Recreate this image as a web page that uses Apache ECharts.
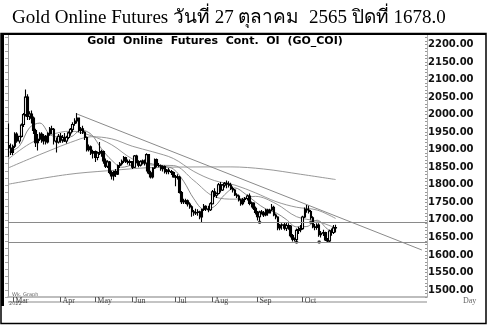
<!DOCTYPE html>
<html><head><meta charset="utf-8">
<script src="https://cdn.jsdelivr.net/npm/echarts@6/dist/echarts.min.js"></script>
<style>html,body{margin:0;padding:0;background:#fff}#c{width:488px;height:326px}</style>
</head><body><div id="c"></div>
<script>
// ---- trading days (day-of-month) per month, 2022 ----
const febDays = [24, 25];
const marDays = [1,2,3,4,7,8,9,10,11,14,15,16,17,18,21,22,23,24,25,28,29,30,31];
const aprDays = [1,4,5,7,8,11,12,18,19,20,21,22,25,26,27,28,29];
const mayDays = [3,5,6,9,10,11,12,13,17,18,19,20,23,24,25,26,27,30];
const junDays = [1,2,6,7,8,9,10,13,14,15,16,17,20,21,22,23,24,27,28,29,30];
const julDays = [1,4,5,6,7,8,11,12,14,15,18,19,20,21,22,25,26,27];
const augDays = [1,2,3,4,5,8,9,10,11,15,16,17,18,19,22,23,24,25,26,29,30,31];
const sepDays = [1,2,5,6,7,8,9,12,13,14,15,16,19,20,21,22,23,26,27,28,29,30];
const octDays = [3,4,5,6,7,10,11,12,14,17,18,19,20,21,25,26,27];
const monthNames = ['Mar','Apr','May','Jun','Jul','Aug','Sep','Oct'];
const futureSlots = 44;

// ---- OHLC: [open, close, low, high] ----
const ohlc = [
[1912,1905,1880,1975],[1905,1892,1885,1918],[1892,1910,1885,1915],[1910,1945,1905,1950],[1945,1925,1920,1950],
[1925,1938,1918,1940],[1938,1970,1935,1975],[1972,2000,1965,2005],[2000,2050,1995,2072],[2050,1995,1985,2058],
[1995,2002,1985,2010],[2002,1990,1975,2012],[1990,1955,1945,1995],[1955,1920,1908,1960],[1920,1930,1898,1945],
[1930,1945,1925,1950],[1945,1925,1920,1950],[1925,1938,1915,1945],[1938,1922,1915,1942],[1922,1946,1918,1950],
[1946,1960,1940,1965],[1960,1958,1945,1968],[1958,1925,1915,1962],[1925,1922,1892,1935],[1922,1938,1918,1945],
[1938,1928,1920,1948],[1928,1935,1920,1942],[1935,1925,1922,1948],[1925,1935,1918,1940],[1935,1948,1930,1952],
[1948,1958,1940,1962],[1958,1972,1950,1978],[1975,1982,1968,1990],[1982,1990,1975,2005],[1990,1955,1950,1992],
[1955,1960,1945,1965],[1960,1950,1945,1968],[1950,1935,1928,1953],[1935,1900,1895,1938],[1900,1908,1895,1915],
[1908,1890,1885,1912],[1890,1895,1875,1900],[1895,1878,1865,1898],[1878,1890,1870,1895],[1890,1892,1885,1922],
[1892,1895,1880,1900],[1895,1868,1860,1898],[1868,1853,1848,1875],[1853,1865,1848,1870],[1865,1835,1830,1868],
[1835,1825,1815,1840],[1825,1838,1812,1840],[1838,1830,1822,1845],[1830,1855,1828,1858],[1855,1860,1848,1865],
[1860,1867,1855,1872],[1867,1878,1862,1882],[1878,1866,1862,1880],[1866,1864,1858,1872],[1864,1866,1855,1872],
[1866,1850,1845,1868],[1850,1882,1848,1885],[1882,1866,1862,1886],[1866,1856,1850,1870],[1856,1866,1852,1870],
[1866,1868,1858,1872],[1868,1862,1855,1872],[1862,1886,1838,1890],[1886,1834,1830,1888],[1834,1822,1818,1840],
[1822,1848,1818,1850],[1848,1872,1845,1875],[1872,1855,1850,1875],[1855,1854,1850,1862],[1854,1846,1840,1858],
[1846,1852,1838,1856],[1852,1837,1832,1855],[1837,1842,1830,1845],[1842,1838,1830,1848],[1838,1835,1828,1842],
[1835,1822,1820,1838],[1822,1823,1796,1828],[1823,1821,1815,1830],[1821,1778,1775,1825],[1778,1752,1745,1782],
[1752,1752,1745,1760],[1752,1754,1745,1760],[1754,1745,1738,1758],[1745,1737,1732,1750],[1737,1723,1709,1742],
[1723,1720,1712,1728],[1720,1721,1714,1732],[1721,1723,1712,1730],[1723,1708,1702,1726],[1708,1730,1693,1732],
[1730,1739,1725,1745],[1739,1731,1725,1742],[1731,1729,1722,1740],[1729,1746,1725,1750],[1746,1780,1744,1785],
[1780,1770,1765,1790],[1770,1775,1762,1778],[1775,1800,1772,1805],[1800,1785,1778,1808],[1785,1799,1782,1802],
[1799,1804,1792,1808],[1804,1802,1790,1812],[1802,1799,1792,1810],[1799,1789,1785,1806],[1789,1785,1778,1795],
[1785,1771,1768,1788],[1771,1768,1762,1776],[1768,1757,1752,1772],[1757,1746,1740,1760],[1746,1758,1742,1762],
[1758,1761,1750,1765],[1761,1768,1755,1772],[1768,1747,1742,1775],[1747,1748,1735,1752],[1748,1733,1728,1750],
[1733,1721,1715,1738],[1721,1709,1698,1725],[1709,1722,1696,1726],[1722,1720,1715,1728],[1720,1714,1708,1725],
[1714,1728,1710,1732],[1728,1720,1712,1732],[1720,1728,1718,1732],[1728,1736,1725,1745],[1736,1714,1710,1740],
[1714,1708,1702,1718],[1708,1677,1670,1710],[1677,1685,1670,1688],[1685,1686,1672,1690],[1686,1676,1670,1692],
[1676,1684,1668,1692],[1684,1682,1672,1690],[1682,1655,1650,1685],[1655,1645,1638,1660],[1645,1644,1638,1650],
[1644,1670,1634,1675],[1670,1672,1660,1680],[1672,1675,1665,1685],[1675,1708,1672,1712],[1708,1730,1705,1735],
[1730,1728,1720,1745],[1728,1724,1718,1742],[1724,1706,1700,1728],[1706,1680,1676,1710],[1680,1678,1670,1688],
[1678,1685,1672,1690],[1685,1658,1652,1690],[1658,1662,1650,1668],[1662,1664,1654,1672],[1664,1643,1640,1666],
[1643,1640,1636,1648],[1640,1668,1636,1672],[1668,1664,1655,1675],[1664,1677,1660,1685],[1677,1678,1665,1686]
];

// ---- moving-average lines: [dayIndex, price] ----
const maFast = [[0,1893],[5,1910],[10,1963],[15,1976],[20,1943],[25,1936],[30,1937],[35,1956],[40,1944],[45,1903],
  [50,1870],[55,1850],[60,1857],[65,1866],[70,1859],[75,1853],[80,1845],[85,1810],[90,1760],[95,1730],[100,1738],
  [105,1772],[110,1791],[115,1774],[120,1751],[125,1731],[130,1720],[135,1701],[140,1680],[145,1681],[150,1699],
  [155,1674],[159,1664]];
const maMid = [[0,1875],[10,1917],[20,1942],[30,1953],[40,1940],[50,1914],[60,1874],[70,1856],[80,1855],[90,1812],
  [100,1766],[110,1759],[120,1767],[130,1746],[140,1709],[150,1696],[159,1677]];
const maSlow = [[0,1849],[10,1874],[20,1898],[30,1921],[40,1937],[50,1931],[60,1910],[70,1894],[80,1875],[90,1838],
  [100,1812],[110,1799],[120,1777],[130,1752],[140,1736],[150,1728],[159,1704]];
const maLong = [[0,1802],[28,1829],[48,1840],[74,1850],[108,1851],[124,1845],[142,1830],[159,1815]];

const supportLevels = [1693, 1637];
const trendLine = [[33, 2002], [201, 1614]];
const touchMarks = [[122,1693],[147,1693],[140,1637],[151,1637]];
const lastClose = 1678;
const yTickLabels = [1500,1550,1600,1650,1700,1750,1800,1850,1900,1950,2000,2050,2100,2150,2200];

// ---- build categories ----
const cats = [];
const monthStart = {};
function addMonth(m, days, name) {
  if (name) monthStart[cats.length] = name;
  days.forEach(d => cats.push('2022-' + String(m).padStart(2,'0') + '-' + String(d).padStart(2,'0')));
}
addMonth(2, febDays, null);
[marDays, aprDays, mayDays, junDays, julDays, augDays, sepDays, octDays].forEach((d, i) => addMonth(i + 3, d, monthNames[i]));
for (let i = 1; i <= futureSlots; i++) cats.push('f' + i);
const isMonthStart = (idx) => monthStart[idx] !== undefined;

const chart = echarts.init(document.getElementById('c'), null, {renderer: 'canvas'});
const grey = '#8a8a8a';
const lineSeries = (data, color) => ({
  type: 'line', data: data, symbol: 'none', smooth: 0.35, silent: true,
  lineStyle: {color: color, width: 0.9}, z: 2
});

chart.setOption({
  animation: false,
  grid: {left: 8, right: 61, top: 34, bottom: 29},
  xAxis: {
    type: 'category', data: cats, boundaryGap: true,
    axisLine: {lineStyle: {color: '#a8a8a8', width: 1.5}},
    axisTick: {show: true, alignWithLabel: true, interval: isMonthStart, length: 5, lineStyle: {color: '#555'}},
    axisLabel: {interval: isMonthStart, formatter: (v, i) => monthStart[i] || '', align: 'left', margin: 0,
      padding: [0, 0, 0, 2], fontSize: 8, fontFamily: 'Liberation Serif', color: '#444'},
    splitLine: {show: false}
  },
  yAxis: [{
    type: 'value', position: 'right', min: 1480, max: 2230, interval: 10, scale: true,
    axisLine: {show: true, lineStyle: {color: '#b0b0b0', width: 1}},
    axisTick: {show: true, inside: true, length: 2, lineStyle: {color: '#999'}},
    axisLabel: {margin: 1, formatter: v => yTickLabels.indexOf(v) >= 0 ? v.toFixed(2) : '',
      fontFamily: 'DejaVu Sans', fontWeight: 'bold', fontSize: 10, color: '#111'},
    splitLine: {show: false}
  }, {
    type: 'value', position: 'left', min: 1480, max: 2230, interval: 20,
    axisLine: {show: true, lineStyle: {color: '#9a9a9a', width: 1}},
    axisTick: {show: true, length: 3, lineStyle: {color: '#aaa'}},
    axisLabel: {show: false}, splitLine: {show: false}
  }],
  series: [
    lineSeries(maLong, '#8c8c8c'),
    lineSeries(maSlow, '#8c8c8c'),
    lineSeries(maMid, '#8c8c8c'),
    lineSeries(maFast, '#7a7a7a'),
    {
      type: 'candlestick', data: ohlc, barWidth: 2, z: 3,
      itemStyle: {color: '#ffffff', color0: '#000000', borderColor: '#000000', borderColor0: '#000000', borderWidth: 1.1},
      markLine: {
        silent: true, symbol: ['none', 'none'], animation: false,
        label: {show: false},
        lineStyle: {color: grey, width: 1, type: 'solid'},
        data: [
          {yAxis: supportLevels[0]},
          {yAxis: supportLevels[1]},
          [{coord: trendLine[0]}, {coord: trendLine[1]}],
          {yAxis: lastClose, lineStyle: {opacity: 0},
            label: {show: true, position: 'end', distance: 1, formatter: lastClose.toFixed(2),
              backgroundColor: '#000', color: '#fff', fontFamily: 'DejaVu Sans', fontWeight: 'bold',
              fontSize: 10, padding: [1, 1, 0, 1]}}
        ]
      }
    },
    {type: 'scatter', data: touchMarks, symbolSize: 3.5, itemStyle: {color: '#000'}, silent: true, z: 4}
  ],
  graphic: [
    {type: 'text', left: 12, top: 9, style: {text: 'Gold Online Futures วันที่ 27 ตุลาคม  2565 ปิดที่ 1678.0',
      font: '19px "Liberation Serif", serif', fill: '#000'}},
    {type: 'text', x: 215, y: 41, style: {text: 'Gold  Online  Futures  Cont.  OI  (GO_COI)',
      font: 'bold 11px "DejaVu Sans"', fill: '#000', textAlign: 'center', textVerticalAlign: 'middle'}},
    {type: 'rect', shape: {x: 1, y: 33.5, width: 485, height: 290}, style: {fill: 'none', stroke: '#000', lineWidth: 1.5}, z: 10},
    {type: 'rect', shape: {x: 1, y: 33, width: 3, height: 273}, style: {fill: '#000'}, z: 10},
    {type: 'rect', shape: {x: 1, y: 33, width: 485, height: 2}, style: {fill: '#000'}, z: 10},
    {type: 'line', shape: {x1: 8, y1: 302, x2: 427, y2: 302}, style: {stroke: '#b0b0b0', lineWidth: 1.5}},
    {type: 'text', x: 463, y: 301, style: {text: 'Day', font: '8px "Liberation Serif"', fill: '#666', textVerticalAlign: 'middle'}},
    {type: 'text', x: 12, y: 295, style: {text: 'Wk. Graph', font: '5px "DejaVu Sans"', fill: '#666', textVerticalAlign: 'middle'}},
    {type: 'text', x: 9, y: 304, style: {text: '2022', font: '5px "DejaVu Sans"', fill: '#666', textVerticalAlign: 'middle'}}
  ]
});
</script></body></html>
